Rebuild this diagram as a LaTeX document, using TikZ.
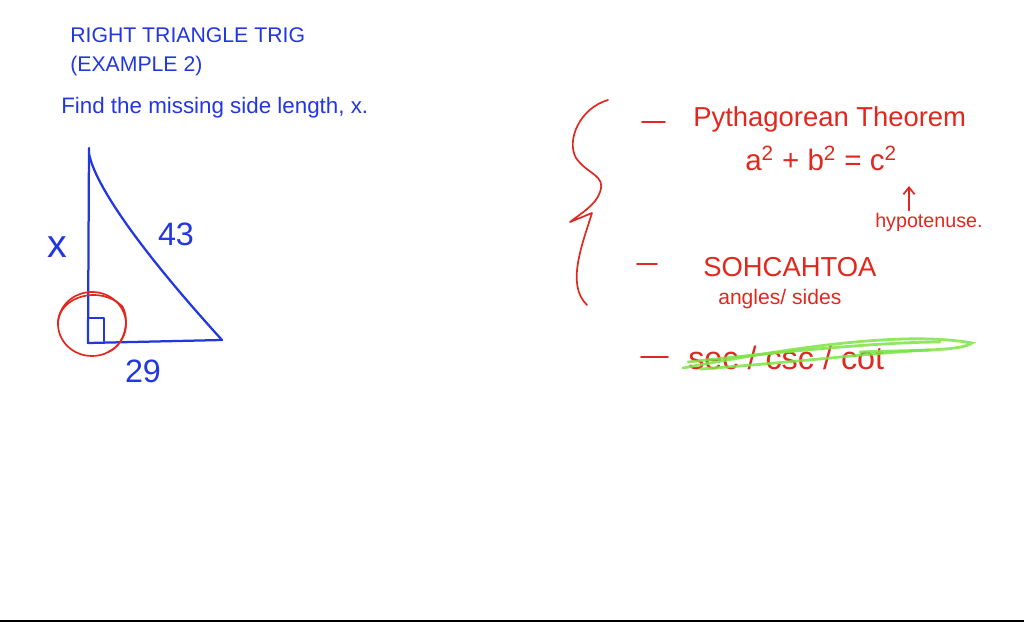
\documentclass[tikz,border=0pt]{standalone}
\usepackage{xcolor}
\usepackage{amsmath}
\usepackage{fontspec}
\setmainfont{Liberation Sans}
\usepackage{tikz}
\usetikzlibrary{arrows.meta}
\definecolor{inkblue}{RGB}{35,55,225}
\definecolor{inkred}{RGB}{225,40,30}
\definecolor{inkgreen}{RGB}{125,228,70}
\tikzset{>=latex}
\tikzstyle{blueink} = [draw=inkblue, line width=1.6pt, line cap=round, line join=round]
\tikzstyle{redink} = [draw=inkred, line width=1.2pt, line cap=round, line join=round]
\tikzstyle{greenink} = [draw=inkgreen, line width=2pt, line cap=round, opacity=0.85]
\tikzstyle{printed} = [draw=none, inner sep = 0, anchor=base west, text=inkblue]
\tikzstyle{label} = [draw=none, inner sep = 0, text=inkblue]
\tikzstyle{note} = [draw=none, inner sep = 0, anchor=base west, text=inkred]

\begin{document}
\begin{tikzpicture}[x=0.025cm, y=-0.025cm]
\useasboundingbox (0,0) rectangle (1024,622);
\fill [white] (0,0) rectangle (1024,622);
\fill [black] (0,619.5) rectangle (1024,622);

% printed heading
\node [printed] (title) at (70, 43) {\fontsize{15.1}{18}\selectfont RIGHT TRIANGLE TRIG};
\node [printed] (example) at (70, 72) {\fontsize{15.1}{18}\selectfont (EXAMPLE 2)};
\node [printed] (task) at (61, 114) {\fontsize{15.9}{19}\selectfont Find the missing side length, x.};

% triangle
\coordinate (T) at (89, 148);
\coordinate (C) at (88, 343);
\coordinate (R) at (222, 340);
\draw [blueink] (T) -- (C) -- (R);
\draw [blueink] ([yshift=-4]T) .. controls (95, 185) and (140, 250) .. (R);
\draw [blueink] (88, 318) -- (104, 318) -- (104, 341);
\draw [redink] (92, 324) ellipse [x radius=34, y radius=32];
\draw [redink] (58, 322) .. controls (60, 296) and (100, 285) .. (122, 306) .. controls (130, 318) and (126, 345) .. (108, 352);

\node [label] (side x) at (57, 247) {\fontsize{28}{30}\selectfont x};
\node [label] (hyp len) at (176, 234) {\fontsize{23}{26}\selectfont 43};
\node [label] (base len) at (143, 371) {\fontsize{23}{26}\selectfont 29};

% brace and notes
\draw [redink] (608, 100) .. controls (580, 108) and (566, 140) .. (576, 158)
  .. controls (588, 175) and (606, 175) .. (600, 192)
  .. controls (596, 205) and (580, 214) .. (570, 222) -- (592, 213)
  .. controls (582, 245) and (566, 285) .. (587, 305);

\draw [redink] (642, 122) -- (665, 122);
\draw [redink] (637, 264) -- (657, 264);
\draw [redink] (641, 357) -- (668, 357);

\node [note] (pyth) at (693, 127) {\fontsize{19.5}{22}\selectfont Pythagorean Theorem};
\node [note] (eqn) at (745, 171) {\fontsize{21}{24}\selectfont a\textsuperscript{2} + b\textsuperscript{2} = c\textsuperscript{2}};
\node [note] (hyp) at (875, 228) {\fontsize{14}{16}\selectfont hypotenuse.};
\coordinate (up) at (909, 186);
\draw [redink, -{Straight Barb[length=5pt, width=8pt]}] (hyp.north -| up) ++(0, -3) -- (up);
\node [note] (soh) at (703, 277) {\fontsize{19.5}{22}\selectfont SOHCAHTOA};
\node [note] (angles) at (718, 305) {\fontsize{15}{18}\selectfont angles/ sides};
\node [note] (recip) at (688, 369) {\fontsize{23}{26}\selectfont sec / csc / cot};

% crossed out
\draw [greenink] (683, 368) .. controls (780, 350) and (900, 330) .. (972, 343)
  .. controls (960, 352) and (900, 350) .. (860, 352);
\draw [greenink] (688, 362) .. controls (780, 352) and (880, 342) .. (940, 342);
\draw [greenink] (700, 369) .. controls (800, 362) and (880, 352) .. (930, 350);
\end{tikzpicture}
\end{document}
